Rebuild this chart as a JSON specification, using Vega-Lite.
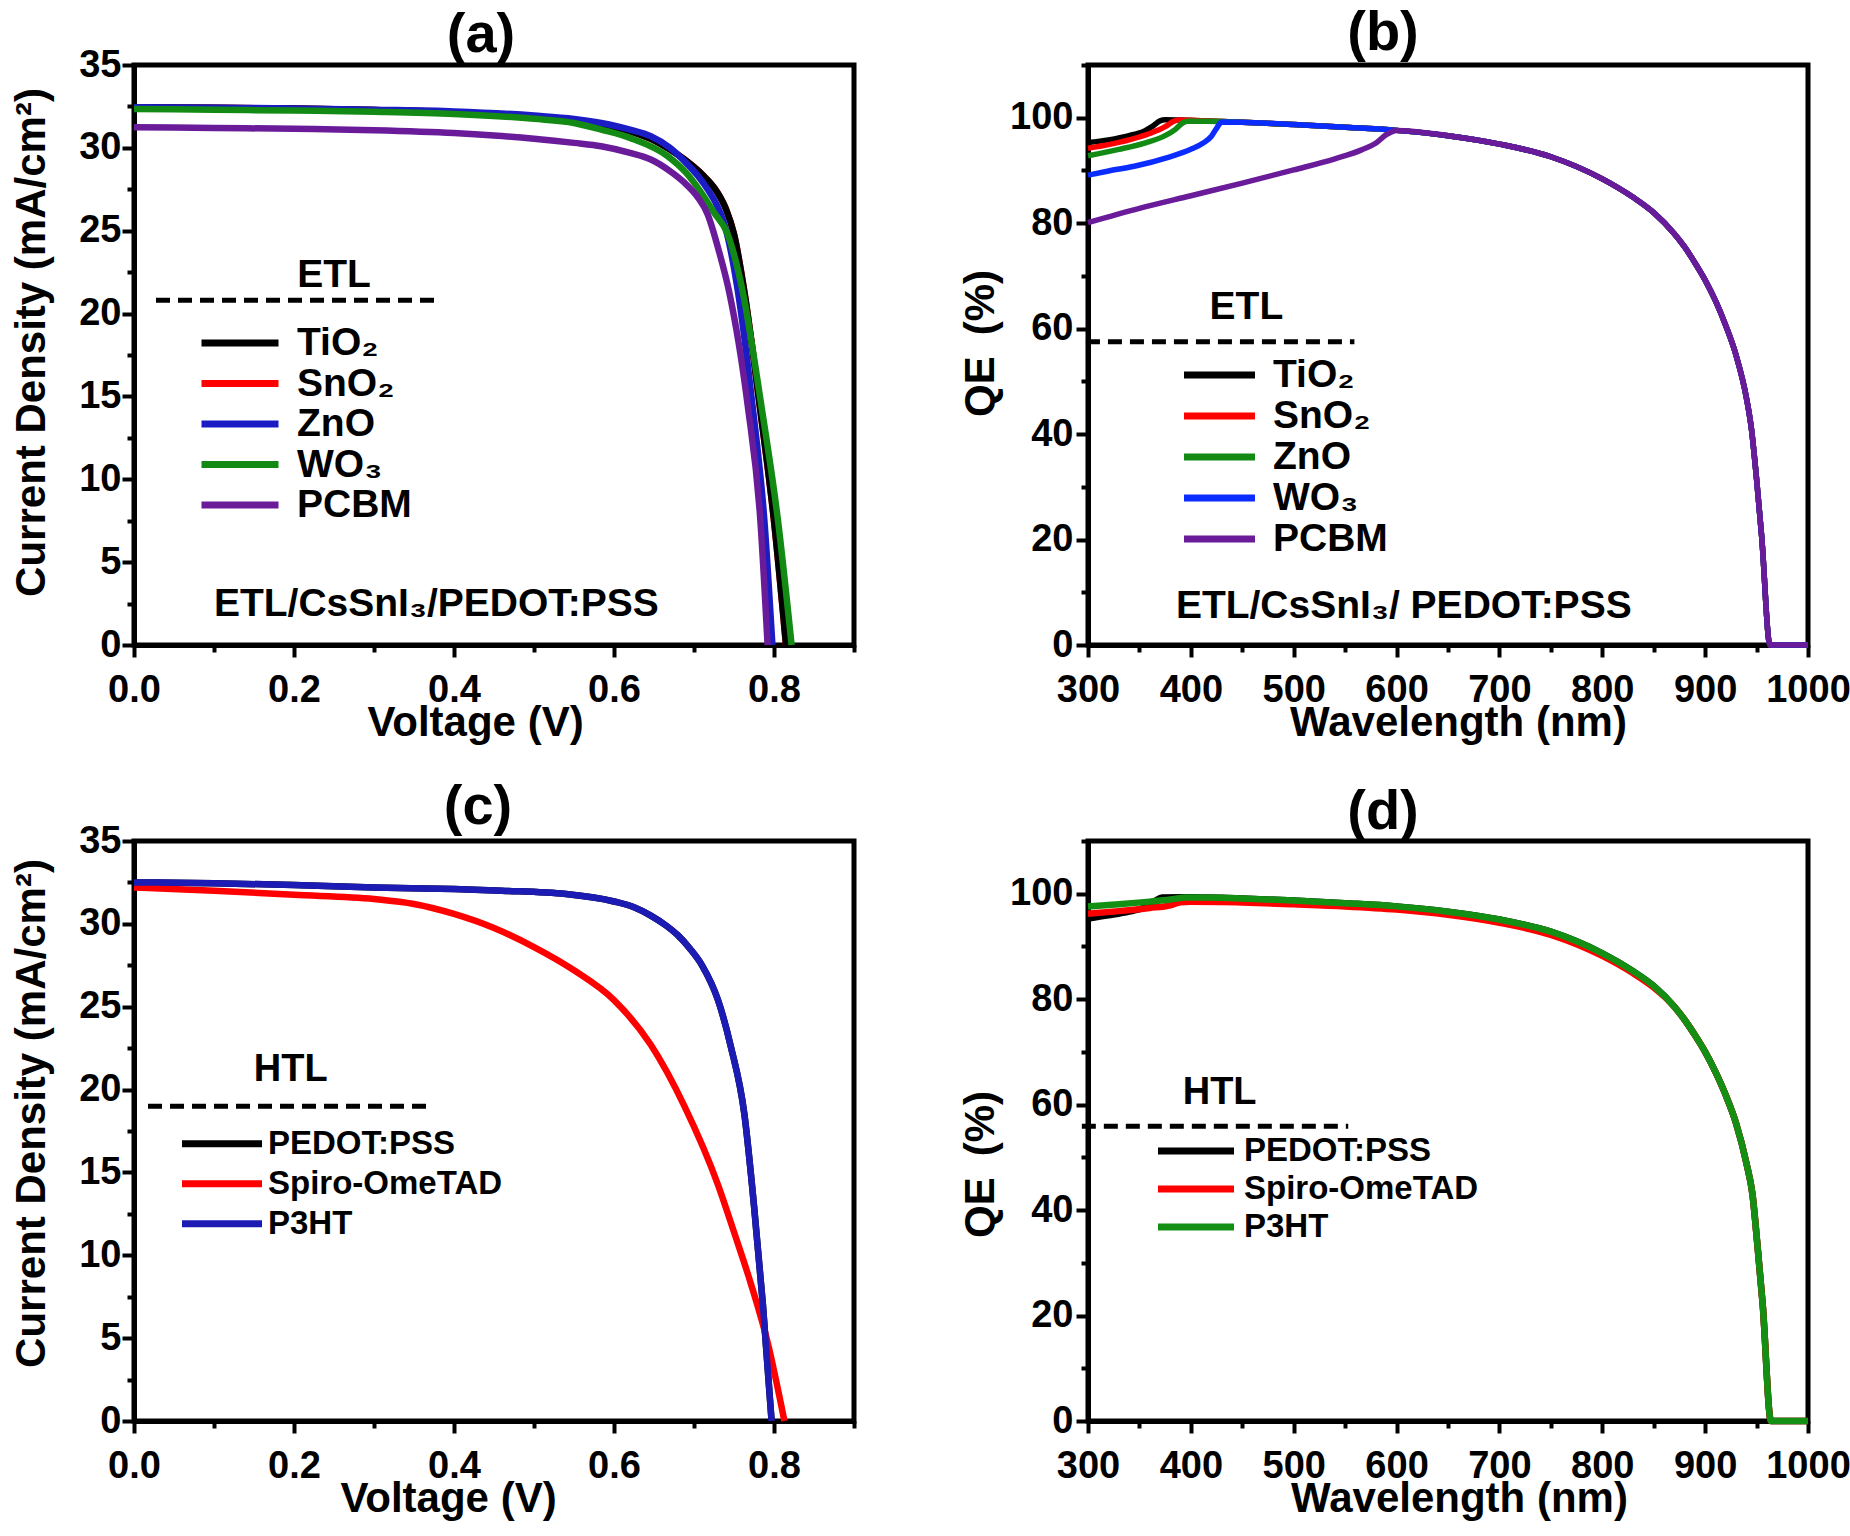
{
  "$schema": "https://vega.github.io/schema/vega-lite/v6.json",
  "background": "white",
  "padding": {"left": 7, "top": 2, "right": 0, "bottom": 0},
  "autosize": {"type": "pad"},
  "bounds": "flush",
  "columns": 2,
  "spacing": {"row": 196, "column": 234},
  "resolve": {"scale": {"color": "independent", "x": "independent", "y": "independent"}, "legend": {"color": "independent"}},
  "datasets": {
    "a": [
      {"s": "SnO₂", "V": 0, "J": 32.45}, {"s": "SnO₂", "V": 0.1, "J": 32.42}, {"s": "SnO₂", "V": 0.2, "J": 32.37}, {"s": "SnO₂", "V": 0.3, "J": 32.28}, {"s": "SnO₂", "V": 0.4, "J": 32.15}, {"s": "SnO₂", "V": 0.5, "J": 31.9}, {"s": "SnO₂", "V": 0.55, "J": 31.65}, {"s": "SnO₂", "V": 0.584, "J": 31.4}, {"s": "SnO₂", "V": 0.62, "J": 31.0}, {"s": "SnO₂", "V": 0.646, "J": 30.55}, {"s": "SnO₂", "V": 0.67, "J": 29.9}, {"s": "SnO₂", "V": 0.688, "J": 29.3}, {"s": "SnO₂", "V": 0.71, "J": 28.4}, {"s": "SnO₂", "V": 0.728, "J": 27.4}, {"s": "SnO₂", "V": 0.74, "J": 26.3}, {"s": "SnO₂", "V": 0.75, "J": 24.8}, {"s": "SnO₂", "V": 0.763, "J": 21.3}, {"s": "SnO₂", "V": 0.782, "J": 14.5}, {"s": "SnO₂", "V": 0.8, "J": 7.5}, {"s": "SnO₂", "V": 0.815, "J": 0},
      {"s": "TiO₂", "V": 0, "J": 32.45}, {"s": "TiO₂", "V": 0.1, "J": 32.42}, {"s": "TiO₂", "V": 0.2, "J": 32.37}, {"s": "TiO₂", "V": 0.3, "J": 32.28}, {"s": "TiO₂", "V": 0.4, "J": 32.15}, {"s": "TiO₂", "V": 0.5, "J": 31.9}, {"s": "TiO₂", "V": 0.55, "J": 31.65}, {"s": "TiO₂", "V": 0.584, "J": 31.4}, {"s": "TiO₂", "V": 0.62, "J": 31.0}, {"s": "TiO₂", "V": 0.646, "J": 30.55}, {"s": "TiO₂", "V": 0.67, "J": 29.9}, {"s": "TiO₂", "V": 0.688, "J": 29.3}, {"s": "TiO₂", "V": 0.71, "J": 28.4}, {"s": "TiO₂", "V": 0.728, "J": 27.4}, {"s": "TiO₂", "V": 0.74, "J": 26.3}, {"s": "TiO₂", "V": 0.75, "J": 24.8}, {"s": "TiO₂", "V": 0.763, "J": 21.3}, {"s": "TiO₂", "V": 0.782, "J": 14.5}, {"s": "TiO₂", "V": 0.8, "J": 7.5}, {"s": "TiO₂", "V": 0.815, "J": 0},
      {"s": "ZnO", "V": 0, "J": 32.45}, {"s": "ZnO", "V": 0.1, "J": 32.42}, {"s": "ZnO", "V": 0.2, "J": 32.38}, {"s": "ZnO", "V": 0.3, "J": 32.3}, {"s": "ZnO", "V": 0.4, "J": 32.2}, {"s": "ZnO", "V": 0.5, "J": 31.95}, {"s": "ZnO", "V": 0.55, "J": 31.75}, {"s": "ZnO", "V": 0.584, "J": 31.5}, {"s": "ZnO", "V": 0.62, "J": 31.1}, {"s": "ZnO", "V": 0.646, "J": 30.7}, {"s": "ZnO", "V": 0.67, "J": 30.0}, {"s": "ZnO", "V": 0.688, "J": 29.2}, {"s": "ZnO", "V": 0.705, "J": 28.3}, {"s": "ZnO", "V": 0.717, "J": 27.5}, {"s": "ZnO", "V": 0.728, "J": 26.6}, {"s": "ZnO", "V": 0.738, "J": 25.4}, {"s": "ZnO", "V": 0.755, "J": 21.3}, {"s": "ZnO", "V": 0.773, "J": 14.5}, {"s": "ZnO", "V": 0.788, "J": 7.5}, {"s": "ZnO", "V": 0.798, "J": 0},
      {"s": "WO₃", "V": 0, "J": 32.35}, {"s": "WO₃", "V": 0.1, "J": 32.3}, {"s": "WO₃", "V": 0.2, "J": 32.25}, {"s": "WO₃", "V": 0.3, "J": 32.18}, {"s": "WO₃", "V": 0.4, "J": 32.05}, {"s": "WO₃", "V": 0.5, "J": 31.75}, {"s": "WO₃", "V": 0.55, "J": 31.5}, {"s": "WO₃", "V": 0.584, "J": 31.1}, {"s": "WO₃", "V": 0.62, "J": 30.6}, {"s": "WO₃", "V": 0.667, "J": 29.5}, {"s": "WO₃", "V": 0.69, "J": 28.5}, {"s": "WO₃", "V": 0.709, "J": 27.3}, {"s": "WO₃", "V": 0.725, "J": 26.1}, {"s": "WO₃", "V": 0.742, "J": 24.8}, {"s": "WO₃", "V": 0.761, "J": 21.3}, {"s": "WO₃", "V": 0.784, "J": 14.5}, {"s": "WO₃", "V": 0.805, "J": 7.5}, {"s": "WO₃", "V": 0.822, "J": 0},
      {"s": "PCBM", "V": 0, "J": 31.25}, {"s": "PCBM", "V": 0.1, "J": 31.2}, {"s": "PCBM", "V": 0.2, "J": 31.15}, {"s": "PCBM", "V": 0.3, "J": 31.07}, {"s": "PCBM", "V": 0.4, "J": 30.9}, {"s": "PCBM", "V": 0.45, "J": 30.75}, {"s": "PCBM", "V": 0.5, "J": 30.55}, {"s": "PCBM", "V": 0.55, "J": 30.3}, {"s": "PCBM", "V": 0.584, "J": 30.1}, {"s": "PCBM", "V": 0.62, "J": 29.7}, {"s": "PCBM", "V": 0.646, "J": 29.3}, {"s": "PCBM", "V": 0.67, "J": 28.6}, {"s": "PCBM", "V": 0.688, "J": 27.9}, {"s": "PCBM", "V": 0.705, "J": 27.0}, {"s": "PCBM", "V": 0.717, "J": 26.0}, {"s": "PCBM", "V": 0.731, "J": 23.8}, {"s": "PCBM", "V": 0.744, "J": 21.3}, {"s": "PCBM", "V": 0.767, "J": 14.5}, {"s": "PCBM", "V": 0.783, "J": 7.5}, {"s": "PCBM", "V": 0.792, "J": 0}
    ],
    "b": [
      {"s": "TiO₂", "wl": 300, "QE": 95.3}, {"s": "TiO₂", "wl": 320, "QE": 95.8}, {"s": "TiO₂", "wl": 340, "QE": 96.6}, {"s": "TiO₂", "wl": 355, "QE": 97.5}, {"s": "TiO₂", "wl": 363, "QE": 98.4}, {"s": "TiO₂", "wl": 370, "QE": 99.4}, {"s": "TiO₂", "wl": 375, "QE": 99.6}, {"s": "TiO₂", "wl": 390, "QE": 99.55}, {"s": "TiO₂", "wl": 410, "QE": 99.45},
      {"s": "TiO₂", "wl": 430, "QE": 99.3}, {"s": "TiO₂", "wl": 450, "QE": 99.15}, {"s": "TiO₂", "wl": 500, "QE": 98.7}, {"s": "TiO₂", "wl": 550, "QE": 98.2}, {"s": "TiO₂", "wl": 600, "QE": 97.6}, {"s": "TiO₂", "wl": 650, "QE": 96.6}, {"s": "TiO₂", "wl": 700, "QE": 95.0}, {"s": "TiO₂", "wl": 750, "QE": 92.6}, {"s": "TiO₂", "wl": 800, "QE": 88.4}, {"s": "TiO₂", "wl": 830, "QE": 84.9}, {"s": "TiO₂", "wl": 850, "QE": 82.0}, {"s": "TiO₂", "wl": 870, "QE": 78.0}, {"s": "TiO₂", "wl": 880, "QE": 75.5}, {"s": "TiO₂", "wl": 890, "QE": 72.5}, {"s": "TiO₂", "wl": 900, "QE": 69.2}, {"s": "TiO₂", "wl": 910, "QE": 65.3}, {"s": "TiO₂", "wl": 920, "QE": 60.6}, {"s": "TiO₂", "wl": 930, "QE": 55.0}, {"s": "TiO₂", "wl": 940, "QE": 47.0}, {"s": "TiO₂", "wl": 945, "QE": 41.0}, {"s": "TiO₂", "wl": 950, "QE": 31.5}, {"s": "TiO₂", "wl": 955, "QE": 20.5}, {"s": "TiO₂", "wl": 963, "QE": 0}, {"s": "TiO₂", "wl": 980, "QE": 0}, {"s": "TiO₂", "wl": 1000, "QE": 0},
      {"s": "SnO₂", "wl": 300, "QE": 94.2}, {"s": "SnO₂", "wl": 320, "QE": 94.9}, {"s": "SnO₂", "wl": 340, "QE": 95.8}, {"s": "SnO₂", "wl": 360, "QE": 97.0}, {"s": "SnO₂", "wl": 375, "QE": 98.3}, {"s": "SnO₂", "wl": 383, "QE": 99.3}, {"s": "SnO₂", "wl": 388, "QE": 99.55}, {"s": "SnO₂", "wl": 400, "QE": 99.5}, {"s": "SnO₂", "wl": 415, "QE": 99.4},
      {"s": "SnO₂", "wl": 430, "QE": 99.3}, {"s": "SnO₂", "wl": 450, "QE": 99.15}, {"s": "SnO₂", "wl": 500, "QE": 98.7}, {"s": "SnO₂", "wl": 550, "QE": 98.2}, {"s": "SnO₂", "wl": 600, "QE": 97.6}, {"s": "SnO₂", "wl": 650, "QE": 96.6}, {"s": "SnO₂", "wl": 700, "QE": 95.0}, {"s": "SnO₂", "wl": 750, "QE": 92.6}, {"s": "SnO₂", "wl": 800, "QE": 88.4}, {"s": "SnO₂", "wl": 830, "QE": 84.9}, {"s": "SnO₂", "wl": 850, "QE": 82.0}, {"s": "SnO₂", "wl": 870, "QE": 78.0}, {"s": "SnO₂", "wl": 880, "QE": 75.5}, {"s": "SnO₂", "wl": 890, "QE": 72.5}, {"s": "SnO₂", "wl": 900, "QE": 69.2}, {"s": "SnO₂", "wl": 910, "QE": 65.3}, {"s": "SnO₂", "wl": 920, "QE": 60.6}, {"s": "SnO₂", "wl": 930, "QE": 55.0}, {"s": "SnO₂", "wl": 940, "QE": 47.0}, {"s": "SnO₂", "wl": 945, "QE": 41.0}, {"s": "SnO₂", "wl": 950, "QE": 31.5}, {"s": "SnO₂", "wl": 955, "QE": 20.5}, {"s": "SnO₂", "wl": 963, "QE": 0}, {"s": "SnO₂", "wl": 980, "QE": 0}, {"s": "SnO₂", "wl": 1000, "QE": 0},
      {"s": "ZnO", "wl": 300, "QE": 92.8}, {"s": "ZnO", "wl": 330, "QE": 94.0}, {"s": "ZnO", "wl": 355, "QE": 95.2}, {"s": "ZnO", "wl": 375, "QE": 96.6}, {"s": "ZnO", "wl": 385, "QE": 97.8}, {"s": "ZnO", "wl": 392, "QE": 99.0}, {"s": "ZnO", "wl": 397, "QE": 99.35}, {"s": "ZnO", "wl": 415, "QE": 99.35},
      {"s": "ZnO", "wl": 430, "QE": 99.3}, {"s": "ZnO", "wl": 450, "QE": 99.15}, {"s": "ZnO", "wl": 500, "QE": 98.7}, {"s": "ZnO", "wl": 550, "QE": 98.2}, {"s": "ZnO", "wl": 600, "QE": 97.6}, {"s": "ZnO", "wl": 650, "QE": 96.6}, {"s": "ZnO", "wl": 700, "QE": 95.0}, {"s": "ZnO", "wl": 750, "QE": 92.6}, {"s": "ZnO", "wl": 800, "QE": 88.4}, {"s": "ZnO", "wl": 830, "QE": 84.9}, {"s": "ZnO", "wl": 850, "QE": 82.0}, {"s": "ZnO", "wl": 870, "QE": 78.0}, {"s": "ZnO", "wl": 880, "QE": 75.5}, {"s": "ZnO", "wl": 890, "QE": 72.5}, {"s": "ZnO", "wl": 900, "QE": 69.2}, {"s": "ZnO", "wl": 910, "QE": 65.3}, {"s": "ZnO", "wl": 920, "QE": 60.6}, {"s": "ZnO", "wl": 930, "QE": 55.0}, {"s": "ZnO", "wl": 940, "QE": 47.0}, {"s": "ZnO", "wl": 945, "QE": 41.0}, {"s": "ZnO", "wl": 950, "QE": 31.5}, {"s": "ZnO", "wl": 955, "QE": 20.5}, {"s": "ZnO", "wl": 963, "QE": 0}, {"s": "ZnO", "wl": 980, "QE": 0}, {"s": "ZnO", "wl": 1000, "QE": 0},
      {"s": "WO₃", "wl": 300, "QE": 89.1}, {"s": "WO₃", "wl": 320, "QE": 89.9}, {"s": "WO₃", "wl": 345, "QE": 90.8}, {"s": "WO₃", "wl": 378, "QE": 92.5}, {"s": "WO₃", "wl": 400, "QE": 94.0}, {"s": "WO₃", "wl": 412, "QE": 95.2}, {"s": "WO₃", "wl": 420, "QE": 96.5}, {"s": "WO₃", "wl": 425, "QE": 98.0}, {"s": "WO₃", "wl": 430, "QE": 99.2},
      {"s": "WO₃", "wl": 450, "QE": 99.15}, {"s": "WO₃", "wl": 500, "QE": 98.7}, {"s": "WO₃", "wl": 550, "QE": 98.2}, {"s": "WO₃", "wl": 600, "QE": 97.6}, {"s": "WO₃", "wl": 650, "QE": 96.6}, {"s": "WO₃", "wl": 700, "QE": 95.0}, {"s": "WO₃", "wl": 750, "QE": 92.6}, {"s": "WO₃", "wl": 800, "QE": 88.4}, {"s": "WO₃", "wl": 830, "QE": 84.9}, {"s": "WO₃", "wl": 850, "QE": 82.0}, {"s": "WO₃", "wl": 870, "QE": 78.0}, {"s": "WO₃", "wl": 880, "QE": 75.5}, {"s": "WO₃", "wl": 890, "QE": 72.5}, {"s": "WO₃", "wl": 900, "QE": 69.2}, {"s": "WO₃", "wl": 910, "QE": 65.3}, {"s": "WO₃", "wl": 920, "QE": 60.6}, {"s": "WO₃", "wl": 930, "QE": 55.0}, {"s": "WO₃", "wl": 940, "QE": 47.0}, {"s": "WO₃", "wl": 945, "QE": 41.0}, {"s": "WO₃", "wl": 950, "QE": 31.5}, {"s": "WO₃", "wl": 955, "QE": 20.5}, {"s": "WO₃", "wl": 963, "QE": 0}, {"s": "WO₃", "wl": 980, "QE": 0}, {"s": "WO₃", "wl": 1000, "QE": 0},
      {"s": "PCBM", "wl": 300, "QE": 80.1}, {"s": "PCBM", "wl": 350, "QE": 82.8}, {"s": "PCBM", "wl": 400, "QE": 85.2}, {"s": "PCBM", "wl": 450, "QE": 87.6}, {"s": "PCBM", "wl": 500, "QE": 90.1}, {"s": "PCBM", "wl": 540, "QE": 92.2}, {"s": "PCBM", "wl": 566, "QE": 93.9}, {"s": "PCBM", "wl": 580, "QE": 95.2}, {"s": "PCBM", "wl": 590, "QE": 96.8}, {"s": "PCBM", "wl": 600, "QE": 97.6},
      {"s": "PCBM", "wl": 650, "QE": 96.6}, {"s": "PCBM", "wl": 700, "QE": 95.0}, {"s": "PCBM", "wl": 750, "QE": 92.6}, {"s": "PCBM", "wl": 800, "QE": 88.4}, {"s": "PCBM", "wl": 830, "QE": 84.9}, {"s": "PCBM", "wl": 850, "QE": 82.0}, {"s": "PCBM", "wl": 870, "QE": 78.0}, {"s": "PCBM", "wl": 880, "QE": 75.5}, {"s": "PCBM", "wl": 890, "QE": 72.5}, {"s": "PCBM", "wl": 900, "QE": 69.2}, {"s": "PCBM", "wl": 910, "QE": 65.3}, {"s": "PCBM", "wl": 920, "QE": 60.6}, {"s": "PCBM", "wl": 930, "QE": 55.0}, {"s": "PCBM", "wl": 940, "QE": 47.0}, {"s": "PCBM", "wl": 945, "QE": 41.0}, {"s": "PCBM", "wl": 950, "QE": 31.5}, {"s": "PCBM", "wl": 955, "QE": 20.5}, {"s": "PCBM", "wl": 963, "QE": 0}, {"s": "PCBM", "wl": 980, "QE": 0}, {"s": "PCBM", "wl": 1000, "QE": 0}
    ],
    "c": [
      {"s": "PEDOT:PSS", "V": 0, "J": 32.5}, {"s": "PEDOT:PSS", "V": 0.1, "J": 32.45}, {"s": "PEDOT:PSS", "V": 0.2, "J": 32.35}, {"s": "PEDOT:PSS", "V": 0.3, "J": 32.2}, {"s": "PEDOT:PSS", "V": 0.4, "J": 32.1}, {"s": "PEDOT:PSS", "V": 0.46, "J": 32.0}, {"s": "PEDOT:PSS", "V": 0.54, "J": 31.8}, {"s": "PEDOT:PSS", "V": 0.6, "J": 31.35}, {"s": "PEDOT:PSS", "V": 0.625, "J": 31.0}, {"s": "PEDOT:PSS", "V": 0.646, "J": 30.5}, {"s": "PEDOT:PSS", "V": 0.665, "J": 29.9}, {"s": "PEDOT:PSS", "V": 0.68, "J": 29.3}, {"s": "PEDOT:PSS", "V": 0.695, "J": 28.5}, {"s": "PEDOT:PSS", "V": 0.71, "J": 27.5}, {"s": "PEDOT:PSS", "V": 0.73, "J": 25.4}, {"s": "PEDOT:PSS", "V": 0.746, "J": 22.6}, {"s": "PEDOT:PSS", "V": 0.763, "J": 18.5}, {"s": "PEDOT:PSS", "V": 0.775, "J": 13.0}, {"s": "PEDOT:PSS", "V": 0.786, "J": 7.1}, {"s": "PEDOT:PSS", "V": 0.797, "J": 0},
      {"s": "Spiro-OmeTAD", "V": 0, "J": 32.2}, {"s": "Spiro-OmeTAD", "V": 0.1, "J": 32.0}, {"s": "Spiro-OmeTAD", "V": 0.2, "J": 31.75}, {"s": "Spiro-OmeTAD", "V": 0.3, "J": 31.5}, {"s": "Spiro-OmeTAD", "V": 0.35, "J": 31.2}, {"s": "Spiro-OmeTAD", "V": 0.4, "J": 30.6}, {"s": "Spiro-OmeTAD", "V": 0.45, "J": 29.75}, {"s": "Spiro-OmeTAD", "V": 0.5, "J": 28.6}, {"s": "Spiro-OmeTAD", "V": 0.55, "J": 27.2}, {"s": "Spiro-OmeTAD", "V": 0.6, "J": 25.4}, {"s": "Spiro-OmeTAD", "V": 0.646, "J": 22.7}, {"s": "Spiro-OmeTAD", "V": 0.688, "J": 19.0}, {"s": "Spiro-OmeTAD", "V": 0.73, "J": 14.25}, {"s": "Spiro-OmeTAD", "V": 0.75, "J": 11.4}, {"s": "Spiro-OmeTAD", "V": 0.771, "J": 8.3}, {"s": "Spiro-OmeTAD", "V": 0.792, "J": 4.75}, {"s": "Spiro-OmeTAD", "V": 0.813, "J": 0},
      {"s": "P3HT", "V": 0, "J": 32.5}, {"s": "P3HT", "V": 0.1, "J": 32.45}, {"s": "P3HT", "V": 0.2, "J": 32.35}, {"s": "P3HT", "V": 0.3, "J": 32.2}, {"s": "P3HT", "V": 0.4, "J": 32.1}, {"s": "P3HT", "V": 0.46, "J": 32.0}, {"s": "P3HT", "V": 0.54, "J": 31.8}, {"s": "P3HT", "V": 0.6, "J": 31.35}, {"s": "P3HT", "V": 0.625, "J": 31.0}, {"s": "P3HT", "V": 0.646, "J": 30.5}, {"s": "P3HT", "V": 0.665, "J": 29.9}, {"s": "P3HT", "V": 0.68, "J": 29.3}, {"s": "P3HT", "V": 0.695, "J": 28.5}, {"s": "P3HT", "V": 0.71, "J": 27.5}, {"s": "P3HT", "V": 0.73, "J": 25.4}, {"s": "P3HT", "V": 0.746, "J": 22.6}, {"s": "P3HT", "V": 0.763, "J": 18.5}, {"s": "P3HT", "V": 0.775, "J": 13.0}, {"s": "P3HT", "V": 0.786, "J": 7.1}, {"s": "P3HT", "V": 0.797, "J": 0}
    ],
    "d": [
      {"s": "PEDOT:PSS", "wl": 300, "QE": 95.3}, {"s": "PEDOT:PSS", "wl": 320, "QE": 95.9}, {"s": "PEDOT:PSS", "wl": 340, "QE": 96.6}, {"s": "PEDOT:PSS", "wl": 355, "QE": 97.4}, {"s": "PEDOT:PSS", "wl": 365, "QE": 98.6}, {"s": "PEDOT:PSS", "wl": 372, "QE": 99.3}, {"s": "PEDOT:PSS", "wl": 390, "QE": 99.35}, {"s": "PEDOT:PSS", "wl": 410, "QE": 99.3},
      {"s": "PEDOT:PSS", "wl": 430, "QE": 99.25}, {"s": "PEDOT:PSS", "wl": 450, "QE": 99.1}, {"s": "PEDOT:PSS", "wl": 500, "QE": 98.7}, {"s": "PEDOT:PSS", "wl": 550, "QE": 98.2}, {"s": "PEDOT:PSS", "wl": 600, "QE": 97.6}, {"s": "PEDOT:PSS", "wl": 650, "QE": 96.6}, {"s": "PEDOT:PSS", "wl": 700, "QE": 95.1}, {"s": "PEDOT:PSS", "wl": 750, "QE": 92.8}, {"s": "PEDOT:PSS", "wl": 800, "QE": 88.7}, {"s": "PEDOT:PSS", "wl": 830, "QE": 85.3}, {"s": "PEDOT:PSS", "wl": 850, "QE": 82.5}, {"s": "PEDOT:PSS", "wl": 870, "QE": 78.6}, {"s": "PEDOT:PSS", "wl": 880, "QE": 76.1}, {"s": "PEDOT:PSS", "wl": 890, "QE": 73.2}, {"s": "PEDOT:PSS", "wl": 900, "QE": 70.0}, {"s": "PEDOT:PSS", "wl": 910, "QE": 66.2}, {"s": "PEDOT:PSS", "wl": 920, "QE": 61.8}, {"s": "PEDOT:PSS", "wl": 930, "QE": 56.5}, {"s": "PEDOT:PSS", "wl": 940, "QE": 49.0}, {"s": "PEDOT:PSS", "wl": 946, "QE": 43.0}, {"s": "PEDOT:PSS", "wl": 951, "QE": 33.0}, {"s": "PEDOT:PSS", "wl": 956, "QE": 22.0}, {"s": "PEDOT:PSS", "wl": 964, "QE": 0}, {"s": "PEDOT:PSS", "wl": 980, "QE": 0}, {"s": "PEDOT:PSS", "wl": 1000, "QE": 0},
      {"s": "Spiro-OmeTAD", "wl": 300, "QE": 96.2}, {"s": "Spiro-OmeTAD", "wl": 330, "QE": 96.7}, {"s": "Spiro-OmeTAD", "wl": 360, "QE": 97.3}, {"s": "Spiro-OmeTAD", "wl": 380, "QE": 97.8}, {"s": "Spiro-OmeTAD", "wl": 390, "QE": 98.4}, {"s": "Spiro-OmeTAD", "wl": 400, "QE": 98.5}, {"s": "Spiro-OmeTAD", "wl": 430, "QE": 98.45}, {"s": "Spiro-OmeTAD", "wl": 450, "QE": 98.35}, {"s": "Spiro-OmeTAD", "wl": 500, "QE": 98.0}, {"s": "Spiro-OmeTAD", "wl": 550, "QE": 97.6}, {"s": "Spiro-OmeTAD", "wl": 600, "QE": 97.0}, {"s": "Spiro-OmeTAD", "wl": 650, "QE": 96.0}, {"s": "Spiro-OmeTAD", "wl": 700, "QE": 94.5}, {"s": "Spiro-OmeTAD", "wl": 750, "QE": 92.2}, {"s": "Spiro-OmeTAD", "wl": 800, "QE": 88.2}, {"s": "Spiro-OmeTAD", "wl": 830, "QE": 84.9}, {"s": "Spiro-OmeTAD", "wl": 850, "QE": 82.2},
      {"s": "Spiro-OmeTAD", "wl": 870, "QE": 78.6}, {"s": "Spiro-OmeTAD", "wl": 880, "QE": 76.1}, {"s": "Spiro-OmeTAD", "wl": 890, "QE": 73.2}, {"s": "Spiro-OmeTAD", "wl": 900, "QE": 70.0}, {"s": "Spiro-OmeTAD", "wl": 910, "QE": 66.2}, {"s": "Spiro-OmeTAD", "wl": 920, "QE": 61.8}, {"s": "Spiro-OmeTAD", "wl": 930, "QE": 56.5}, {"s": "Spiro-OmeTAD", "wl": 940, "QE": 49.0}, {"s": "Spiro-OmeTAD", "wl": 946, "QE": 43.0}, {"s": "Spiro-OmeTAD", "wl": 951, "QE": 33.0}, {"s": "Spiro-OmeTAD", "wl": 956, "QE": 22.0}, {"s": "Spiro-OmeTAD", "wl": 964, "QE": 0}, {"s": "Spiro-OmeTAD", "wl": 980, "QE": 0}, {"s": "Spiro-OmeTAD", "wl": 1000, "QE": 0},
      {"s": "P3HT", "wl": 300, "QE": 97.6}, {"s": "P3HT", "wl": 330, "QE": 98.0}, {"s": "P3HT", "wl": 360, "QE": 98.5}, {"s": "P3HT", "wl": 380, "QE": 98.9}, {"s": "P3HT", "wl": 395, "QE": 99.3}, {"s": "P3HT", "wl": 410, "QE": 99.3},
      {"s": "P3HT", "wl": 430, "QE": 99.25}, {"s": "P3HT", "wl": 450, "QE": 99.1}, {"s": "P3HT", "wl": 500, "QE": 98.7}, {"s": "P3HT", "wl": 550, "QE": 98.2}, {"s": "P3HT", "wl": 600, "QE": 97.6}, {"s": "P3HT", "wl": 650, "QE": 96.6}, {"s": "P3HT", "wl": 700, "QE": 95.1}, {"s": "P3HT", "wl": 750, "QE": 92.8}, {"s": "P3HT", "wl": 800, "QE": 88.7}, {"s": "P3HT", "wl": 830, "QE": 85.3}, {"s": "P3HT", "wl": 850, "QE": 82.5}, {"s": "P3HT", "wl": 870, "QE": 78.6}, {"s": "P3HT", "wl": 880, "QE": 76.1}, {"s": "P3HT", "wl": 890, "QE": 73.2}, {"s": "P3HT", "wl": 900, "QE": 70.0}, {"s": "P3HT", "wl": 910, "QE": 66.2}, {"s": "P3HT", "wl": 920, "QE": 61.8}, {"s": "P3HT", "wl": 930, "QE": 56.5}, {"s": "P3HT", "wl": 940, "QE": 49.0}, {"s": "P3HT", "wl": 946, "QE": 43.0}, {"s": "P3HT", "wl": 951, "QE": 33.0}, {"s": "P3HT", "wl": 956, "QE": 22.0}, {"s": "P3HT", "wl": 964, "QE": 0}, {"s": "P3HT", "wl": 980, "QE": 0}, {"s": "P3HT", "wl": 1000, "QE": 0}
    ]
  },
  "concat": [
    {
      "width": 720, "height": 580,
      "title": {"text": "(a)", "anchor": "middle", "frame": "group", "dx": -13, "offset": -61.5, "baseline": "alphabetic"},
      "layer": [
        {
          "data": {"name": "a"},
          "mark": {"type": "line", "interpolate": "monotone", "strokeWidth": 6.5},
          "encoding": {
            "x": {"field": "V", "type": "quantitative", "scale": {"domain": [0, 0.9], "nice": false, "zero": false},
              "axis": {"title": "Voltage (V)", "values": [0, 0.1, 0.2, 0.3, 0.4, 0.5, 0.6, 0.7, 0.8, 0.9], "labelExpr": "round(datum.value*10) % 2 == 0 ? format(datum.value, '.1f') : ''", "tickSize": {"condition": {"test": "round(datum.value*10) % 2 == 0", "value": 12}, "value": 7}, "labelPadding": 14, "titleX": 341, "titleY": 90, "titleBaseline": "alphabetic"}},
            "y": {"field": "J", "type": "quantitative", "scale": {"domain": [0, 35], "nice": false},
              "axis": {"title": "Current Density (mA/cm²)", "values": [0, 2.5, 5, 7.5, 10, 12.5, 15, 17.5, 20, 22.5, 25, 27.5, 30, 32.5, 35], "labelExpr": "datum.value % 5 == 0 ? format(datum.value, 'd') : ''", "tickSize": {"condition": {"test": "datum.value % 5 == 0", "value": 12}, "value": 7}, "labelPadding": 1, "titleX": -90, "titleY": 277, "titleBaseline": "alphabetic", "titleAngle": 270}},
            "color": {"field": "s", "type": "nominal",
              "scale": {"domain": ["TiO₂", "SnO₂", "ZnO", "WO₃", "PCBM"], "range": ["#000000", "#ff0000", "#1c1cc4", "#138a13", "#6a1b9a"]},
              "legend": {"title": null, "orient": "none", "legendX": 64, "legendY": 258, "padding": 0, "rowPadding": 0.5, "clipHeight": 40, "symbolType": "stroke", "symbolSize": 5929, "symbolStrokeWidth": 7, "labelOffset": 15, "labelFontSize": 39, "labelFont": "Liberation Sans", "labelFontWeight": "bold", "labelColor": "#000000", "labelLimit": 600}}
          }
        },
        {
          "data": {"values": [{}]},
          "mark": {"type": "rule", "strokeDash": [14, 8], "strokeWidth": 5, "color": "#000000"},
          "encoding": {"x": {"datum": 0.0275}, "x2": {"datum": 0.379}, "y": {"datum": 20.8}}
        },
        {
          "data": {"values": [{}]},
          "mark": {"type": "text", "text": "ETL", "font": "Liberation Sans", "fontWeight": "bold", "fontSize": 39, "align": "center", "baseline": "alphabetic", "color": "#000000"},
          "encoding": {"x": {"datum": 0.25}, "y": {"datum": 21.6}}
        },
        {
          "data": {"values": [{}]},
          "mark": {"type": "text", "text": "ETL/CsSnI₃/PEDOT:PSS", "font": "Liberation Sans", "fontWeight": "bold", "fontSize": 39, "align": "center", "baseline": "alphabetic", "color": "#000000"},
          "encoding": {"x": {"datum": 0.378}, "y": {"datum": 1.75}}
        }
      ]
    },
    {
      "width": 720, "height": 580,
      "title": {"text": "(b)", "anchor": "middle", "frame": "group", "dx": -65, "offset": -60, "baseline": "alphabetic"},
      "layer": [
        {
          "data": {"name": "b"},
          "mark": {"type": "line", "interpolate": "monotone", "strokeWidth": 5.5},
          "encoding": {
            "x": {"field": "wl", "type": "quantitative", "scale": {"domain": [300, 1000], "nice": false, "zero": false},
              "axis": {"title": "Wavelength (nm)", "values": [300, 350, 400, 450, 500, 550, 600, 650, 700, 750, 800, 850, 900, 950, 1000], "labelExpr": "datum.value % 100 == 0 ? format(datum.value, 'd') : ''", "tickSize": {"condition": {"test": "datum.value % 100 == 0", "value": 12}, "value": 7}, "labelPadding": 14, "titleX": 370, "titleY": 90, "titleBaseline": "alphabetic"}},
            "y": {"field": "QE", "type": "quantitative", "scale": {"domain": [0, 110], "nice": false},
              "axis": {"title": "QE\u2002(%)", "values": [0, 10, 20, 30, 40, 50, 60, 70, 80, 90, 100, 110], "labelExpr": "datum.value % 20 == 0 && datum.value <= 100 ? format(datum.value, 'd') : ''", "tickSize": {"condition": {"test": "datum.value % 20 == 0", "value": 12}, "value": 7}, "labelPadding": 3, "titleX": -95, "titleY": 278, "titleBaseline": "alphabetic", "titleAngle": 270}},
            "color": {"field": "s", "type": "nominal",
              "scale": {"domain": ["TiO₂", "SnO₂", "ZnO", "WO₃", "PCBM"], "range": ["#000000", "#ff0000", "#138a13", "#0a2cff", "#6a1b9a"]},
              "legend": {"title": null, "orient": "none", "legendX": 92.5, "legendY": 289.5, "padding": 0, "rowPadding": 0, "clipHeight": 41, "symbolType": "stroke", "symbolSize": 5041, "symbolStrokeWidth": 7, "labelOffset": 14.5, "labelFontSize": 39, "labelFont": "Liberation Sans", "labelFontWeight": "bold", "labelColor": "#000000", "labelLimit": 600}}
          }
        },
        {
          "data": {"values": [{}]},
          "mark": {"type": "rule", "strokeDash": [14, 8], "strokeWidth": 5, "color": "#000000"},
          "encoding": {"x": {"datum": 298}, "x2": {"datum": 559}, "y": {"datum": 57.5}}
        },
        {
          "data": {"values": [{}]},
          "mark": {"type": "text", "text": "ETL", "font": "Liberation Sans", "fontWeight": "bold", "fontSize": 39, "align": "center", "baseline": "alphabetic", "color": "#000000"},
          "encoding": {"x": {"datum": 454}, "y": {"datum": 61.9}}
        },
        {
          "data": {"values": [{}]},
          "mark": {"type": "text", "text": "ETL/CsSnI₃/ PEDOT:PSS", "font": "Liberation Sans", "fontWeight": "bold", "fontSize": 39, "align": "center", "baseline": "alphabetic", "color": "#000000"},
          "encoding": {"x": {"datum": 607}, "y": {"datum": 5.1}}
        }
      ]
    },
    {
      "width": 720, "height": 580,
      "title": {"text": "(c)", "anchor": "middle", "frame": "group", "dx": -16, "offset": -57.5, "baseline": "alphabetic"},
      "layer": [
        {
          "data": {"name": "c"},
          "mark": {"type": "line", "interpolate": "monotone", "strokeWidth": 6.5},
          "encoding": {
            "x": {"field": "V", "type": "quantitative", "scale": {"domain": [0, 0.9], "nice": false, "zero": false},
              "axis": {"title": "Voltage (V)", "values": [0, 0.1, 0.2, 0.3, 0.4, 0.5, 0.6, 0.7, 0.8, 0.9], "labelExpr": "round(datum.value*10) % 2 == 0 ? format(datum.value, '.1f') : ''", "tickSize": {"condition": {"test": "round(datum.value*10) % 2 == 0", "value": 12}, "value": 7}, "labelPadding": 14, "titleX": 314, "titleY": 90, "titleBaseline": "alphabetic"}},
            "y": {"field": "J", "type": "quantitative", "scale": {"domain": [0, 35], "nice": false},
              "axis": {"title": "Current Density (mA/cm²)", "values": [0, 2.5, 5, 7.5, 10, 12.5, 15, 17.5, 20, 22.5, 25, 27.5, 30, 32.5, 35], "labelExpr": "datum.value % 5 == 0 ? format(datum.value, 'd') : ''", "tickSize": {"condition": {"test": "datum.value % 5 == 0", "value": 12}, "value": 7}, "labelPadding": 1, "titleX": -90, "titleY": 272, "titleBaseline": "alphabetic", "titleAngle": 270}},
            "color": {"field": "s", "type": "nominal",
              "scale": {"domain": ["PEDOT:PSS", "Spiro-OmeTAD", "P3HT"], "range": ["#000000", "#ff0000", "#1c1cb4"]},
              "legend": {"title": null, "orient": "none", "legendX": 44.5, "legendY": 283, "padding": 0, "rowPadding": 0, "clipHeight": 39.5, "symbolType": "stroke", "symbolSize": 6400, "symbolStrokeWidth": 7, "labelOffset": 2.5, "labelFontSize": 33, "labelFont": "Liberation Sans", "labelFontWeight": "bold", "labelColor": "#000000", "labelLimit": 600}}
          }
        },
        {
          "data": {"values": [{}]},
          "mark": {"type": "rule", "strokeDash": [14, 8], "strokeWidth": 5, "color": "#000000"},
          "encoding": {"x": {"datum": 0.0175}, "x2": {"datum": 0.366}, "y": {"datum": 19.0}}
        },
        {
          "data": {"values": [{}]},
          "mark": {"type": "text", "text": "HTL", "font": "Liberation Sans", "fontWeight": "bold", "fontSize": 38, "align": "center", "baseline": "alphabetic", "color": "#000000"},
          "encoding": {"x": {"datum": 0.196}, "y": {"datum": 20.5}}
        }
      ]
    },
    {
      "width": 720, "height": 580,
      "title": {"text": "(d)", "anchor": "middle", "frame": "group", "dx": -65, "offset": -63, "baseline": "alphabetic"},
      "layer": [
        {
          "data": {"name": "d"},
          "mark": {"type": "line", "interpolate": "monotone", "strokeWidth": 6.5},
          "encoding": {
            "x": {"field": "wl", "type": "quantitative", "scale": {"domain": [300, 1000], "nice": false, "zero": false},
              "axis": {"title": "Wavelength (nm)", "values": [300, 350, 400, 450, 500, 550, 600, 650, 700, 750, 800, 850, 900, 950, 1000], "labelExpr": "datum.value % 100 == 0 ? format(datum.value, 'd') : ''", "tickSize": {"condition": {"test": "datum.value % 100 == 0", "value": 12}, "value": 7}, "labelPadding": 14, "titleX": 371, "titleY": 90, "titleBaseline": "alphabetic"}},
            "y": {"field": "QE", "type": "quantitative", "scale": {"domain": [0, 110], "nice": false},
              "axis": {"title": "QE\u2002(%)", "values": [0, 10, 20, 30, 40, 50, 60, 70, 80, 90, 100, 110], "labelExpr": "datum.value % 20 == 0 && datum.value <= 100 ? format(datum.value, 'd') : ''", "tickSize": {"condition": {"test": "datum.value % 20 == 0", "value": 12}, "value": 7}, "labelPadding": 3, "titleX": -95, "titleY": 323, "titleBaseline": "alphabetic", "titleAngle": 270}},
            "color": {"field": "s", "type": "nominal",
              "scale": {"domain": ["PEDOT:PSS", "Spiro-OmeTAD", "P3HT"], "range": ["#000000", "#ff0000", "#139013"]},
              "legend": {"title": null, "orient": "none", "legendX": 66.5, "legendY": 291, "padding": 0, "rowPadding": 0, "clipHeight": 38, "symbolType": "stroke", "symbolSize": 5776, "symbolStrokeWidth": 7, "labelOffset": 6.5, "labelFontSize": 33, "labelFont": "Liberation Sans", "labelFontWeight": "bold", "labelColor": "#000000", "labelLimit": 600}}
          }
        },
        {
          "data": {"values": [{}]},
          "mark": {"type": "rule", "strokeDash": [14, 8], "strokeWidth": 5, "color": "#000000"},
          "encoding": {"x": {"datum": 294}, "x2": {"datum": 553}, "y": {"datum": 55.9}}
        },
        {
          "data": {"values": [{}]},
          "mark": {"type": "text", "text": "HTL", "font": "Liberation Sans", "fontWeight": "bold", "fontSize": 38, "align": "center", "baseline": "alphabetic", "color": "#000000"},
          "encoding": {"x": {"datum": 428}, "y": {"datum": 60.2}}
        }
      ]
    }
  ],
  "config": {
    "font": "Liberation Sans",
    "view": {"stroke": "#000000", "strokeWidth": 5},
    "axis": {"grid": false, "domainColor": "#000000", "domainWidth": 5, "tickColor": "#000000", "tickWidth": 4, "labelFont": "Liberation Sans", "labelFontSize": 38, "labelFontWeight": "bold", "labelColor": "#000000", "labelOverlap": false, "labelFlush": false, "labelBound": false, "titleFont": "Liberation Sans", "titleFontSize": 42, "titleFontWeight": "bold", "titleColor": "#000000"},
    "title": {"font": "Liberation Sans", "fontSize": 56, "fontWeight": "bold", "color": "#000000"}
  }
}
